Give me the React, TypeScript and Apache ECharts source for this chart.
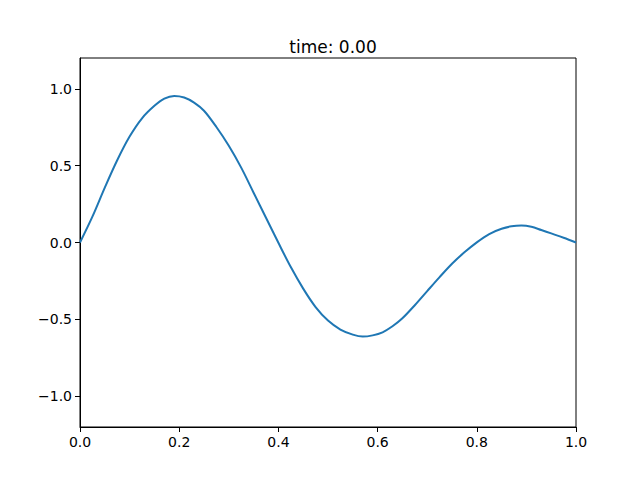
import React, { useEffect, useRef } from "react";
import * as echarts from "echarts";

const titleText = "time: 0.00";
const xValues = [
  0.0, 0.025, 0.05, 0.075, 0.1, 0.125, 0.15, 0.17, 0.19, 0.21, 0.23, 0.25, 0.275, 0.3, 0.325, 0.35,
  0.375, 0.4, 0.425, 0.45, 0.475, 0.5, 0.525, 0.55, 0.57, 0.59, 0.61, 0.63, 0.65, 0.675, 0.7, 0.725,
  0.75, 0.775, 0.8, 0.825, 0.85, 0.87, 0.89, 0.91, 0.93, 0.95, 0.975, 1.0,
];
const yValues = [
  0.0, 0.168, 0.357, 0.535, 0.689, 0.808, 0.889, 0.936, 0.953, 0.943, 0.91, 0.857, 0.751, 0.629, 0.487, 0.324,
  0.161, -0.002, -0.16, -0.3, -0.42, -0.508, -0.566, -0.599, -0.612, -0.604, -0.584, -0.545, -0.493, -0.408, -0.316, -0.225,
  -0.138, -0.064, 0.001, 0.055, 0.089, 0.105, 0.11, 0.102, 0.081, 0.059, 0.031, 0.0,
];
const xTicks = [0, 0.2, 0.4, 0.6, 0.8, 1.0];
const yTicks = [-1.0, -0.5, 0.0, 0.5, 1.0];

const fmt = (v: number) => (v < 0 ? "\u2212" + Math.abs(v).toFixed(1) : v.toFixed(1));

export default function App() {
  const ref = useRef<HTMLDivElement>(null);
  useEffect(() => {
    if (!ref.current) return;
    const chart = echarts.init(ref.current, undefined, { renderer: "svg" });
    const font = "DejaVu Sans";
    chart.setOption({
      animation: false,
      backgroundColor: "#ffffff",
      title: {
        text: titleText,
        left: 328,
        top: 33,
        textAlign: "center",
        textStyle: { fontFamily: font, fontSize: 17, fontWeight: "normal", color: "#000" },
      },
      grid: {
        left: 80,
        right: 64,
        top: 58,
        bottom: 53,
        show: true,
        borderColor: "#000",
        borderWidth: 1,
        backgroundColor: "#fff",
      },
      xAxis: {
        type: "value",
        min: 0,
        max: 1,
        interval: 0.2,
        axisLine: { show: true, onZero: false, lineStyle: { color: "#000", width: 1 } },
        axisTick: { show: true, length: 5, lineStyle: { color: "#000" }, customValues: xTicks },
        axisLabel: {
          customValues: xTicks,
          formatter: (v: number) => fmt(v),
          fontFamily: font,
          fontSize: 14,
          color: "#000",
          margin: 8,
        },
        splitLine: { show: false },
      },
      yAxis: {
        type: "value",
        min: -1.2,
        max: 1.2,
        axisLine: { show: true, onZero: false, lineStyle: { color: "#000", width: 1 } },
        axisTick: { show: true, length: 5, lineStyle: { color: "#000" }, customValues: yTicks },
        axisLabel: {
          customValues: yTicks,
          formatter: (v: number) => fmt(v),
          fontFamily: font,
          fontSize: 14,
          color: "#000",
          margin: 8,
        },
        splitLine: { show: false },
      },
      series: [
        {
          type: "line",
          data: xValues.map((x, i) => [x, yValues[i]]),
          smooth: 0.33,
          showSymbol: false,
          lineStyle: { color: "#1f77b4", width: 2 },
          clip: true,
        },
      ],
    });
    return () => chart.dispose();
  }, []);
  return <div ref={ref} style={{ position: "fixed", left: 0, top: 0, width: 640, height: 480 }} />;
}
